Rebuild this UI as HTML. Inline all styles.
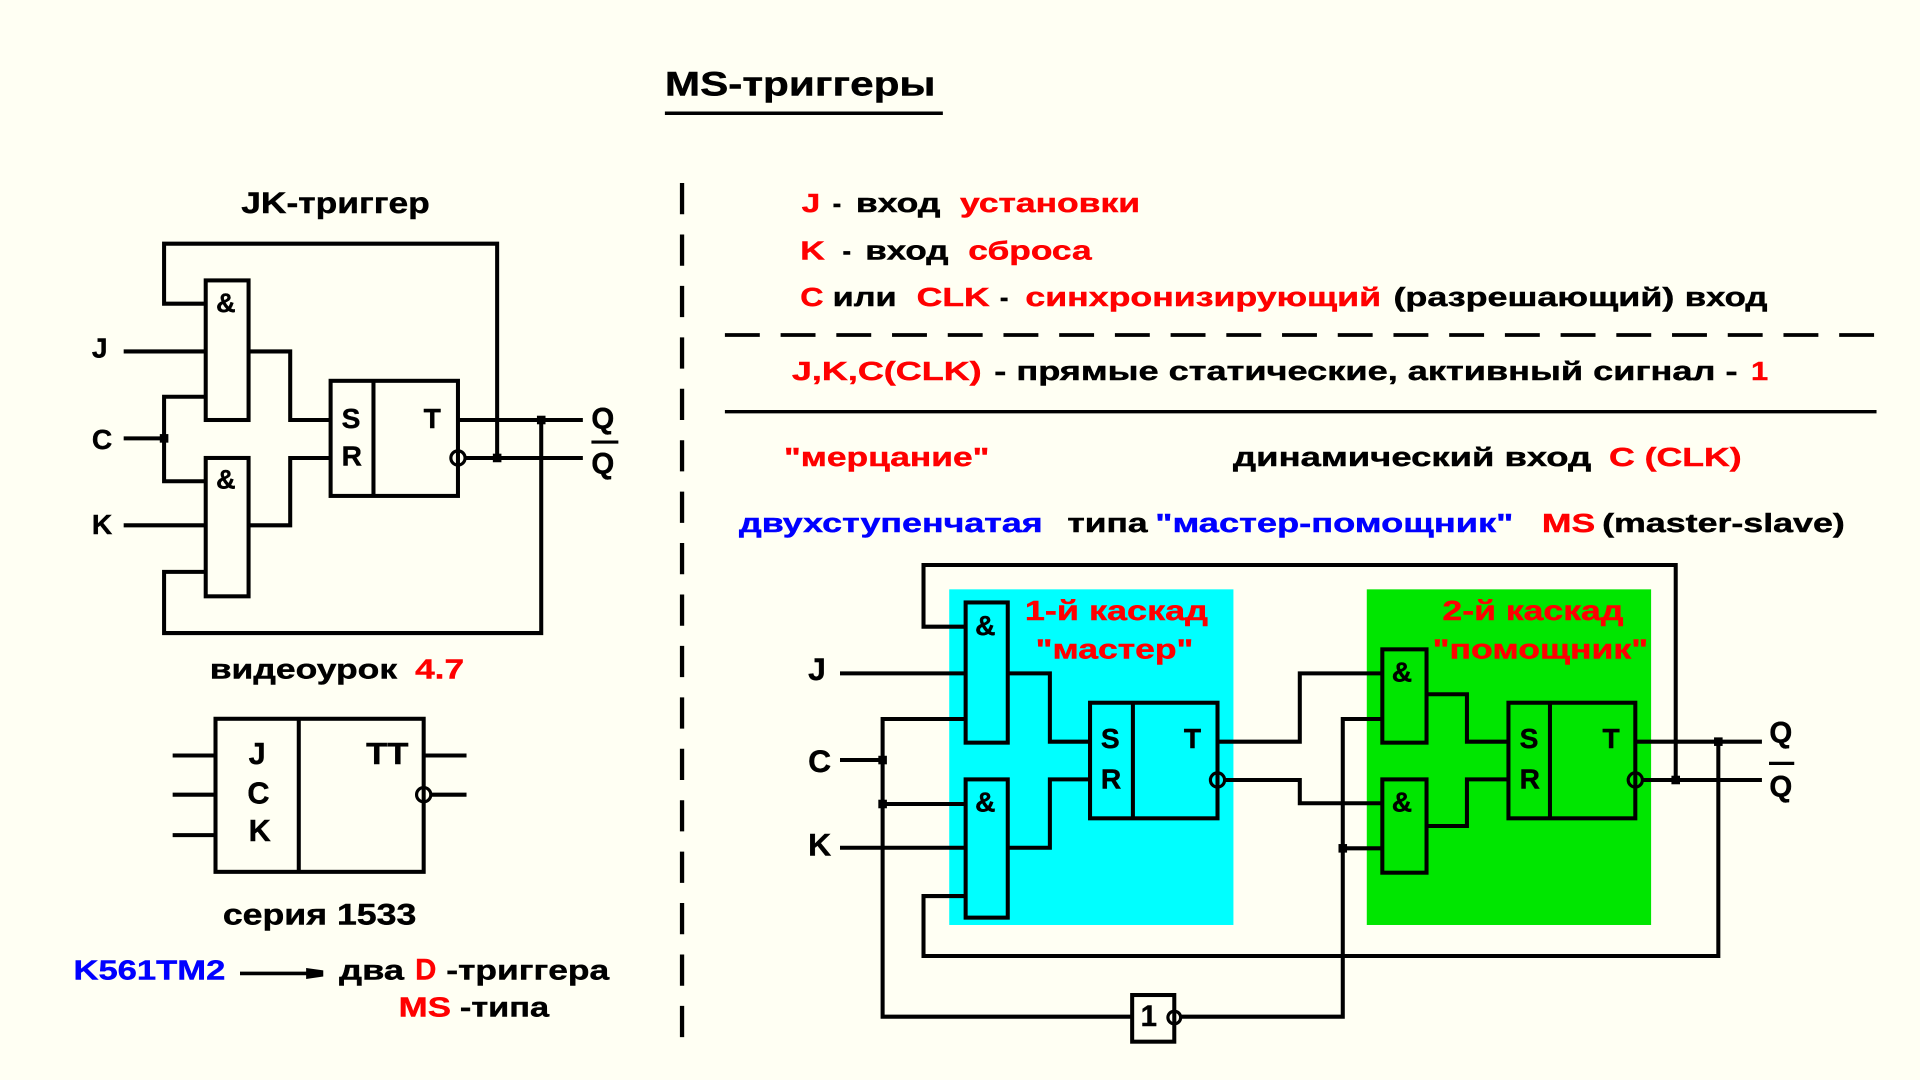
<!DOCTYPE html>
<html><head><meta charset="utf-8"><style>
html,body{margin:0;padding:0;background:#FFFFF3;}
svg{display:block;}
text{font-family:"Liberation Sans",Arial,sans-serif;font-weight:bold;stroke-width:0.35;}
.k{fill:#000;stroke:#000}.r{fill:#FF0000;stroke:#FF0000}.b{fill:#0000FF;stroke:#0000FF}
</style></head><body>
<svg width="1920" height="1080" viewBox="0 0 1568 882" preserveAspectRatio="none" xmlns="http://www.w3.org/2000/svg">
<rect x="0" y="0" width="1568" height="882" fill="#FFFFF3"/>

<!-- Title -->
<text x="543" y="78" font-size="28" class="k" textLength="221" lengthAdjust="spacingAndGlyphs">MS-триггеры</text>
<line x1="543" y1="92.5" x2="770" y2="92.5" stroke="#000" stroke-width="2.8"/>

<!-- vertical dashed divider -->
<line x1="557" y1="149.5" x2="557" y2="847" stroke="#000" stroke-width="3.5" stroke-dasharray="25.5 16.5"/>

<!-- ================= JK trigger (left) ================= -->
<text x="197" y="174" font-size="24" class="k" textLength="154" lengthAdjust="spacingAndGlyphs">JK-триггер</text>
<g fill="none" stroke="#000" stroke-width="3.3" stroke-linejoin="miter">
  <polyline points="168,248 134,248 134,199 406,199 406,374"/>
  <rect x="168" y="229" width="35" height="114"/>
  <line x1="101" y1="287" x2="168" y2="287"/>
  <line x1="101" y1="358" x2="134" y2="358"/>
  <polyline points="168,324 134,324 134,393 168,393"/>
  <rect x="168" y="374" width="35" height="113"/>
  <line x1="101" y1="429" x2="168" y2="429"/>
  <polyline points="168,467 134,467 134,517 442,517 442,343"/>
  <polyline points="203,287 237,287 237,343 270,343"/>
  <polyline points="203,429 237,429 237,374 270,374"/>
  <rect x="270" y="311" width="104" height="94"/>
  <line x1="305" y1="311" x2="305" y2="405"/>
  <line x1="374" y1="343" x2="476" y2="343"/>
  <line x1="380" y1="374" x2="476" y2="374"/>
  <circle cx="374" cy="374" r="5.8" stroke-width="2.6"/>
</g>
<g fill="#000">
  <rect x="402.5" y="370.5" width="7" height="7"/>
  <rect x="438.5" y="339.5" width="7" height="7"/>
  <rect x="130.5" y="354.5" width="7" height="7"/>
</g>
<text x="75" y="292" font-size="23" class="k">J</text>
<text x="75" y="366.5" font-size="23" class="k">C</text>
<text x="75" y="436" font-size="23" class="k">K</text>
<text x="176.5" y="255" font-size="22" class="k">&amp;</text>
<text x="176.5" y="399" font-size="22" class="k">&amp;</text>
<text x="279" y="349.5" font-size="23" class="k">S</text>
<text x="279" y="380" font-size="23" class="k">R</text>
<text x="346" y="349.5" font-size="23" class="k">T</text>
<text x="483" y="350" font-size="24" class="k">Q</text>
<line x1="483" y1="361" x2="505" y2="361" stroke="#000" stroke-width="2.6"/>
<text x="483" y="386.5" font-size="24" class="k">Q</text>

<text x="171.3" y="554" font-size="23" class="k" textLength="153" lengthAdjust="spacingAndGlyphs">видеоурок</text>
<text x="339" y="554" font-size="23" class="r" textLength="40" lengthAdjust="spacingAndGlyphs">4.7</text>

<!-- TT box -->
<g fill="none" stroke="#000" stroke-width="3.3">
  <rect x="176" y="587" width="170" height="125"/>
  <line x1="244" y1="587" x2="244" y2="712"/>
  <line x1="141" y1="617" x2="176" y2="617"/>
  <line x1="141" y1="649" x2="176" y2="649"/>
  <line x1="141" y1="682" x2="176" y2="682"/>
  <line x1="346" y1="617" x2="381" y2="617"/>
  <line x1="352" y1="649" x2="381" y2="649"/>
  <circle cx="346" cy="649" r="5.8" stroke-width="2.6"/>
</g>
<text x="203" y="624" font-size="25" class="k">J</text>
<text x="202" y="656" font-size="25" class="k">C</text>
<text x="203" y="687" font-size="25" class="k">K</text>
<text x="299" y="624" font-size="25" class="k" textLength="34.6" lengthAdjust="spacingAndGlyphs">TT</text>

<text x="182" y="755" font-size="24" class="k" textLength="158" lengthAdjust="spacingAndGlyphs">серия 1533</text>
<text x="60" y="800" font-size="23" class="b" textLength="124" lengthAdjust="spacingAndGlyphs">K561TM2</text>
<line x1="196" y1="795" x2="256" y2="795" stroke="#000" stroke-width="3"/>
<polygon points="250,790.5 264,792.5 264,797.5 250,799.5" fill="#000"/>
<text x="277" y="800" font-size="23" class="k" textLength="53" lengthAdjust="spacingAndGlyphs">два</text>
<text x="339" y="800" font-size="24" class="r">D</text>
<text x="364.5" y="800" font-size="23" class="k" textLength="133" lengthAdjust="spacingAndGlyphs">-триггера</text>
<text x="325.6" y="830.3" font-size="23" class="r" textLength="42.7" lengthAdjust="spacingAndGlyphs">MS</text>
<text x="375.6" y="830.3" font-size="23" class="k" textLength="72.8" lengthAdjust="spacingAndGlyphs">-типа</text>

<!-- ================= Right text ================= -->
<text transform="translate(654.7,173) scale(1.3,1)" font-size="21" class="r">J</text>
<text x="680" y="173" font-size="21" class="k">-</text>
<text x="699" y="173" font-size="21" class="k" textLength="69" lengthAdjust="spacingAndGlyphs">вход</text>
<text x="784" y="173" font-size="21" class="r" textLength="147" lengthAdjust="spacingAndGlyphs">установки</text>

<text transform="translate(653.5,211.8) scale(1.32,1)" font-size="21" class="r">K</text>
<text x="688" y="211.8" font-size="21" class="k">-</text>
<text x="706.6" y="211.8" font-size="21" class="k" textLength="68" lengthAdjust="spacingAndGlyphs">вход</text>
<text x="790.8" y="211.8" font-size="21" class="r" textLength="100.7" lengthAdjust="spacingAndGlyphs">сброса</text>

<text transform="translate(653.5,250) scale(1.25,1)" font-size="21" class="r">C</text>
<text x="680" y="250" font-size="21" class="k" textLength="52.3" lengthAdjust="spacingAndGlyphs">или</text>
<text x="748.6" y="250" font-size="21" class="r" textLength="59.7" lengthAdjust="spacingAndGlyphs">CLK</text>
<text x="816.6" y="250" font-size="21" class="k">-</text>
<text x="837.4" y="250" font-size="21" class="r" textLength="290.5" lengthAdjust="spacingAndGlyphs">синхронизирующий</text>
<text x="1138" y="250" font-size="21" class="k" textLength="229.4" lengthAdjust="spacingAndGlyphs">(разрешающий)</text>
<text x="1375.9" y="250" font-size="21" class="k" textLength="67.5" lengthAdjust="spacingAndGlyphs">вход</text>

<line x1="592" y1="273.6" x2="1531" y2="273.6" stroke="#000" stroke-width="3" stroke-dasharray="28.5 17"/>

<text x="646.7" y="310.3" font-size="21" class="r" textLength="155" lengthAdjust="spacingAndGlyphs">J,K,C(CLK)</text>
<text x="812" y="310.3" font-size="21" class="k" textLength="607" lengthAdjust="spacingAndGlyphs">- прямые статические, активный сигнал -</text>
<text transform="translate(1430,310.3) scale(1.2,1)" font-size="21" class="r">1</text>

<line x1="592" y1="336.2" x2="1532.5" y2="336.2" stroke="#000" stroke-width="2.8"/>

<text x="640.3" y="380.5" font-size="21" class="r" textLength="167.7" lengthAdjust="spacingAndGlyphs">"мерцание"</text>
<text x="1007" y="380.5" font-size="21" class="k" textLength="292.5" lengthAdjust="spacingAndGlyphs">динамический вход</text>
<text x="1314" y="380.5" font-size="21" class="r" textLength="108.4" lengthAdjust="spacingAndGlyphs">C (CLK)</text>

<text x="603.5" y="434.5" font-size="21" class="b" textLength="248" lengthAdjust="spacingAndGlyphs">двухступенчатая</text>
<text x="871.7" y="434.5" font-size="21" class="k" textLength="65.5" lengthAdjust="spacingAndGlyphs">типа</text>
<text x="943.5" y="434.5" font-size="21" class="b" textLength="292.4" lengthAdjust="spacingAndGlyphs">"мастер-помощник"</text>
<text x="1259.2" y="434.5" font-size="21" class="r" textLength="43.5" lengthAdjust="spacingAndGlyphs">MS</text>
<text x="1308.4" y="434.5" font-size="21" class="k" textLength="198.2" lengthAdjust="spacingAndGlyphs">(master-slave)</text>

<!-- ================= MS circuit ================= -->
<rect x="775.2" y="481.3" width="232.1" height="274.1" fill="#00FFFF"/>
<rect x="1116.2" y="481.3" width="232.2" height="274.1" fill="#00E600"/>

<text x="837" y="506.4" font-size="23" class="r" textLength="149.5" lengthAdjust="spacingAndGlyphs">1-й каскад</text>
<text x="845.8" y="537.7" font-size="23" class="r" textLength="128.8" lengthAdjust="spacingAndGlyphs">"мастер"</text>
<text x="1178" y="506.4" font-size="23" class="r" textLength="147.8" lengthAdjust="spacingAndGlyphs">2-й каскад</text>
<text x="1170" y="537.7" font-size="23" class="r" textLength="176" lengthAdjust="spacingAndGlyphs">"помощник"</text>

<g fill="none" stroke="#000" stroke-width="3.3">
  <polyline points="788.6,511.8 754.2,511.8 754.2,461.4 1368.5,461.4 1368.5,637"/>
  <rect x="788.6" y="492" width="34.4" height="114.5"/>
  <line x1="686" y1="549.9" x2="788.6" y2="549.9"/>
  <polyline points="788.6,587.2 720.8,587.2 720.8,830.3 924.6,830.3"/>
  <line x1="686" y1="620.7" x2="720.8" y2="620.7"/>
  <line x1="720.8" y1="656.6" x2="788.6" y2="656.6"/>
  <rect x="788.6" y="636.5" width="34.4" height="112.9"/>
  <line x1="686" y1="692.3" x2="788.6" y2="692.3"/>
  <polyline points="788.6,731.8 754.2,731.8 754.2,780.7 1403.3,780.7 1403.3,605.7"/>
  <polyline points="823,549.9 857.4,549.9 857.4,605.7 890.2,605.7"/>
  <polyline points="823,692.3 857.4,692.3 857.4,636.5 890.2,636.5"/>
  <rect x="890.2" y="573.9" width="104.1" height="94.4"/>
  <line x1="925.2" y1="573.9" x2="925.2" y2="668.3"/>
  <polyline points="994.3,605.7 1061.5,605.7 1061.5,549.9 1128.9,549.9"/>
  <polyline points="1000,637 1061.5,637 1061.5,656 1128.9,656"/>
  <circle cx="994.3" cy="637" r="5.8" stroke-width="2.6"/>
  <rect x="924.6" y="812.6" width="34.4" height="38.1"/>
  <circle cx="959" cy="831" r="5.2" stroke-width="2.6"/>
  <polyline points="964.2,830.3 1096.6,830.3 1096.6,587.2 1128.9,587.2"/>
  <line x1="1096.6" y1="692.8" x2="1128.9" y2="692.8"/>
  <rect x="1128.9" y="530.3" width="36.1" height="76.2"/>
  <rect x="1128.9" y="636.5" width="36.1" height="76.2"/>
  <polyline points="1165,567 1198,567 1198,605.7 1231.9,605.7"/>
  <polyline points="1165,674.6 1198,674.6 1198,636.5 1231.9,636.5"/>
  <rect x="1231.9" y="573.9" width="103.6" height="94.4"/>
  <line x1="1265.8" y1="573.9" x2="1265.8" y2="668.3"/>
  <line x1="1335.5" y1="605.7" x2="1438.9" y2="605.7"/>
  <line x1="1341.2" y1="637" x2="1438.9" y2="637"/>
  <circle cx="1335.5" cy="637" r="5.8" stroke-width="2.6"/>
</g>
<g fill="#000">
  <rect x="717.3" y="617.2" width="7" height="7"/>
  <rect x="717.3" y="653.1" width="7" height="7"/>
  <rect x="1093.1" y="689.3" width="7" height="7"/>
  <rect x="1399.8" y="602.2" width="7" height="7"/>
  <rect x="1365" y="633.5" width="7" height="7"/>
</g>
<text x="660" y="555.5" font-size="26" class="k">J</text>
<text x="660" y="630.5" font-size="26" class="k">C</text>
<text x="660" y="698.5" font-size="26" class="k">K</text>
<text x="796.4" y="518.6" font-size="23" class="k">&amp;</text>
<text x="796.4" y="662.9" font-size="23" class="k">&amp;</text>
<text x="899" y="611" font-size="23" class="k">S</text>
<text x="899" y="643.8" font-size="23" class="k">R</text>
<text x="966.8" y="611" font-size="23" class="k">T</text>
<text x="1136.6" y="556.7" font-size="23" class="k">&amp;</text>
<text x="1136.6" y="662.9" font-size="23" class="k">&amp;</text>
<text x="1241" y="611" font-size="23" class="k">S</text>
<text x="1241" y="643.8" font-size="23" class="k">R</text>
<text x="1308.7" y="611" font-size="23" class="k">T</text>
<text x="931.5" y="838" font-size="24" class="k">1</text>
<text x="1445" y="606.5" font-size="24" class="k">Q</text>
<line x1="1444.7" y1="623.4" x2="1465.3" y2="623.4" stroke="#000" stroke-width="2.6"/>
<text x="1445" y="650.6" font-size="24" class="k">Q</text>
</svg>
</body></html>
